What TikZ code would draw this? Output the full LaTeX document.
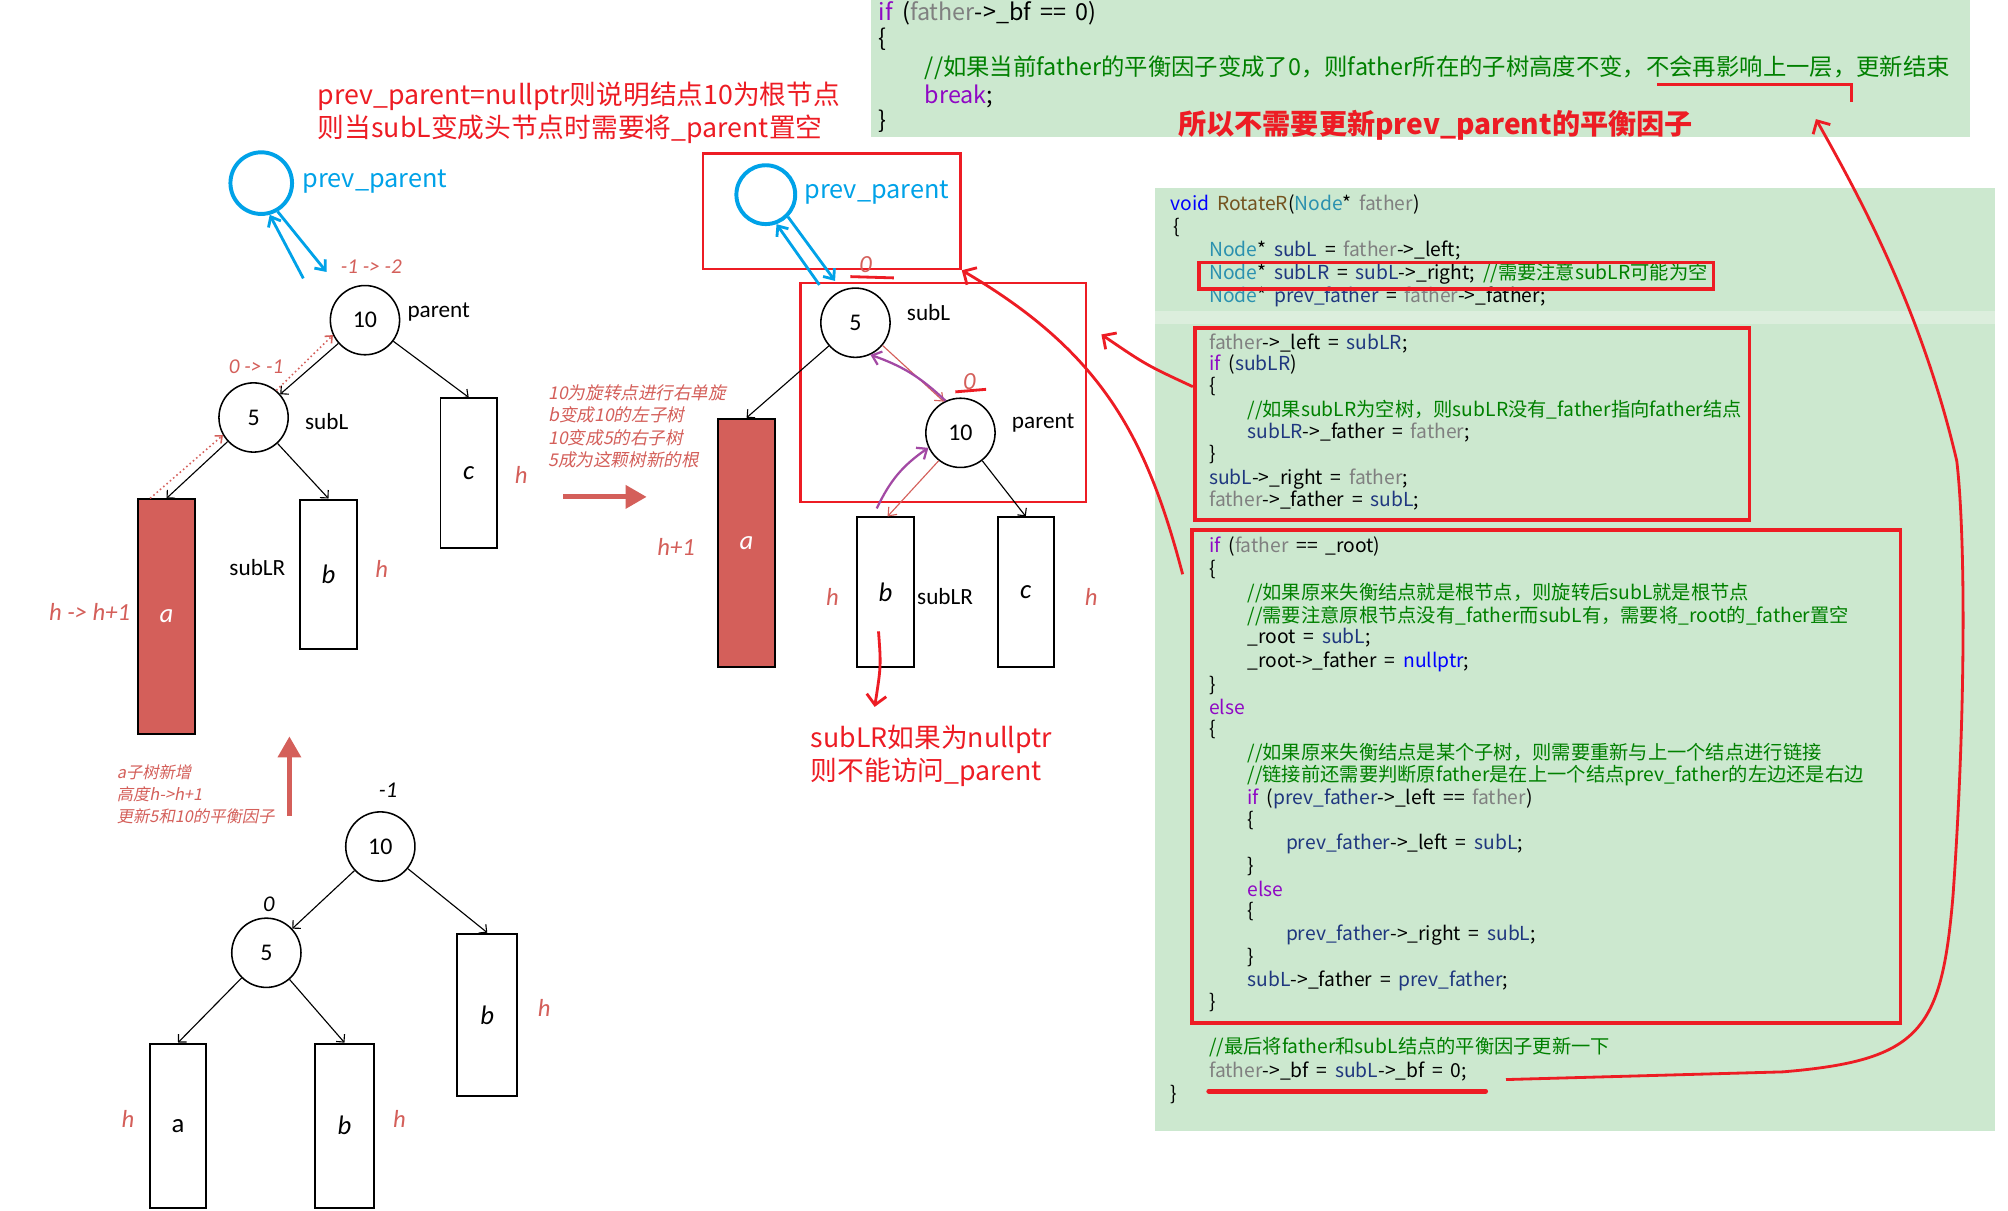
\documentclass[tikz,border=0pt]{standalone}
\usepackage{fontspec}
\setmainfont{Carlito}
\newfontfamily\cjk{Noto Sans CJK SC}
\newfontfamily\codefont[WordSpace=1.8]{Noto Sans CJK SC}
\newfontfamily\cjkit[FakeSlant=0.2]{Noto Sans CJK SC}
\usetikzlibrary{arrows.meta}

\definecolor{codebg}{RGB}{204,232,207}
\definecolor{codeband}{RGB}{220,238,221}
\definecolor{markred}{RGB}{237,28,36}
\definecolor{palered}{RGB}{212,95,90}
\definecolor{ppblue}{RGB}{0,162,232}
\definecolor{arrowpurple}{RGB}{163,73,164}
\definecolor{kwpurple}{RGB}{143,8,196}
\definecolor{kwblue}{RGB}{0,0,255}
\definecolor{typeteal}{RGB}{43,145,175}
\definecolor{paramgray}{RGB}{128,128,128}
\definecolor{varblue}{RGB}{31,55,127}
\definecolor{fnbrown}{RGB}{116,83,31}
\definecolor{comgreen}{RGB}{0,128,0}

\newcommand\ckw[1]{\textcolor{kwpurple}{#1}}
\newcommand\cblue[1]{\textcolor{kwblue}{#1}}
\newcommand\cty[1]{\textcolor{typeteal}{#1}}
\newcommand\cpar[1]{\textcolor{paramgray}{#1}}
\newcommand\cvar[1]{\textcolor{varblue}{#1}}
\newcommand\cfn[1]{\textcolor{fnbrown}{#1}}
\newcommand\ccom[1]{\textcolor{comgreen}{#1}}

\begin{document}
\begin{tikzpicture}[x=0.032cm,y=-0.032cm,
  vert/.style={circle,draw,line width=1.1pt,minimum size=1.73cm,inner sep=0,font=\fontsize{17}{20}\selectfont},
  lbl/.style={anchor=west,inner sep=0,font=\fontsize{16.5}{20}\selectfont},
  subtree/.style={draw,line width=1.4pt,minimum width=1.41cm,inner sep=0,font=\fontsize{19}{22}\selectfont\itshape},
  hotsub/.style={subtree,fill=palered,text=white},
  treeedge/.style={-{Straight Barb[length=4pt,width=8pt]},line width=0.8pt},
  note/.style={inner sep=0,text=palered,font=\fontsize{17.5}{20}\selectfont\itshape},
  bfval/.style={inner sep=0,font=\fontsize{16}{19}\selectfont\itshape},
  ppcircle/.style={circle,draw=ppblue,line width=2.8pt,inner sep=0},
  pplabel/.style={anchor=west,inner sep=0,text=ppblue,font=\cjk\fontsize{18}{22}\selectfont},
  bluearr/.style={ppblue,line width=2pt,-{Straight Barb[length=6pt,width=10pt]}},
  dotarr/.style={palered,line width=1.1pt,dotted,-{Straight Barb[length=4pt,width=7pt]}},
  thinarr/.style={palered,line width=0.8pt,-{Straight Barb[length=5pt,width=8pt]}},
  purarr/.style={arrowpurple,line width=1.6pt,-{Straight Barb[length=6pt,width=10pt]}},
  markbox/.style={draw=markred,line width=1.9pt,inner sep=0},
  codebox/.style={draw=markred,line width=2.7pt,inner sep=0},
  hand/.style={markred,line width=2pt,-{Straight Barb[length=7pt,width=14pt]}},
  redtext/.style={anchor=west,inner sep=0,text=markred,font=\cjk\fontsize{19}{23}\selectfont},
  smallnote/.style={anchor=north west,align=left,inner sep=0,text=palered,font=\cjkit\fontsize{12.5}{16}\selectfont},
  bigarr/.style={palered,line width=3.6pt,-{Triangle[length=15pt,width=16pt]}},
  codeline/.style={anchor=west,inner sep=0,font=\codefont\fontsize{13.7}{16}\selectfont},
  topline/.style={anchor=west,inner sep=0,font=\codefont\fontsize{16.6}{20}\selectfont}]
  \useasboundingbox (0,0) rectangle (1568,945);
  \fill[white] (0,0) rectangle (1568,945);

  % code panels
  \fill[codebg] (680,0) rectangle (1538,107);
  \fill[codebg] (902,147) rectangle (1558,883);
  \fill[codeband] (902,243) rectangle (1558,253);

  \foreach \x/\y/\t in {686/10/{\ckw{if} (\cpar{father}->\_bf == 0)},
      686/31/{\{},
      722/53/{\ccom{//如果当前father的平衡因子变成了0，则father所在的子树高度不变，不会再影响上一层，更新结束}},
      722/75/{\ckw{break};},
      686/95/{\}}}
    \node[topline] (tl\y) at (\x,\y) {\t};

  \foreach \x/\y/\t in {914/160/{\cblue{void} \cfn{RotateR}(\cty{Node}* \cpar{father})},
      916/178/{\{},
      944/196/{\cty{Node}* \cvar{subL} = \cpar{father}->\_left;},
      944/214/{\cty{Node}* \cvar{subLR} = \cvar{subL}->\_right; \ccom{//需要注意subLR可能为空}},
      944/232/{\cty{Node}* \cvar{prev\_father} = \cpar{father}->\_father;},
      944/268/{\cpar{father}->\_left = \cvar{subLR};},
      944/285/{\ckw{if} (\cvar{subLR})},
      944/302/{\{},
      974/320/{\ccom{//如果subLR为空树，则subLR没有\_father指向father结点}},
      974/338/{\cvar{subLR}->\_father = \cpar{father};},
      944/355/{\}},
      944/374/{\cvar{subL}->\_right = \cpar{father};},
      944/391/{\cpar{father}->\_father = \cvar{subL};},
      944/427/{\ckw{if} (\cpar{father} == \_root)},
      944/445/{\{},
      974/463/{\ccom{//如果原来失衡结点就是根节点，则旋转后subL就是根节点}},
      974/481/{\ccom{//需要注意原根节点没有\_father而subL有，需要将\_root的\_father置空}},
      974/498/{\_root = \cvar{subL};},
      974/517/{\_root->\_father = \cblue{nullptr};},
      944/535/{\}},
      944/552/{\ckw{else}},
      944/570/{\{},
      974/588/{\ccom{//如果原来失衡结点是某个子树，则需要重新与上一个结点进行链接}},
      974/606/{\ccom{//链接前还需要判断原father是在上一个结点prev\_father的左边还是右边}},
      974/624/{\ckw{if} (\cvar{prev\_father}->\_left == \cpar{father})},
      974/641/{\{},
      1004/659/{\cvar{prev\_father}->\_left = \cvar{subL};},
      974/677/{\}},
      974/694/{\ckw{else}},
      974/712/{\{},
      1004/730/{\cvar{prev\_father}->\_right = \cvar{subL};},
      974/748/{\}},
      974/766/{\cvar{subL}->\_father = \cvar{prev\_father};},
      944/783/{\}},
      944/818/{\ccom{//最后将father和subL结点的平衡因子更新一下}},
      944/837/{\cpar{father}->\_bf = \cvar{subL}->\_bf = 0;},
      914/855/{\}}}
    \node[codeline] (cl\y) at (\x,\y) {\t};

  \node[codebox,minimum width=12.86cm,minimum height=0.67cm] (rbox3) at (1137,215.5) {};
  \node[codebox,minimum width=13.86cm,minimum height=4.8cm] (rbox4) at (1149.5,331) {};
  \node[codebox,minimum width=17.7cm,minimum height=12.32cm] (rbox5) at (1207.5,606.5) {};

  \node[anchor=west,inner sep=0,text=markred,font=\cjk\fontsize{20}{24}\selectfont\bfseries] (keep) at (920,98) {所以不需要更新prev\_parent的平衡因子};
  \draw[markred,line width=2pt] (1294,66) -- (1446,66) -- (1446,80);
  \draw[markred,line width=3.6pt,line cap=round] (944,852) -- (1160,852);
  \coordinate (bfline) at (1176,843);
  \coordinate (tipA) at (1418,93);
  \draw[hand] (bfline) -- (1392,837) .. controls (1500,828) and (1516,805) .. (1525,700)
    .. controls (1535,560) and (1535,420) .. (1528,360) .. controls (1500,240) and (1450,150) .. (tipA);

  % before the rotation
  \node[redtext] (t1) at (248,75) {prev\_parent=nullptr则说明结点10为根节点};
  \node[redtext] (t2) at (248,101) {则当subL变成头节点时需要将\_parent置空};

  \node[ppcircle,minimum size=1.54cm] (pp1) at (204,143) {};
  \node[pplabel] (pp1l) at (236,142) {prev\_parent};
  \node[vert] (n10a) at (285,250) {10};
  \node[lbl] (par1) at (318,244) {parent};
  \node[vert] (n5a) at (198,326) {5};
  \node[lbl] (sub1) at (238,329) {subL};
  \node[hotsub,minimum height=5.86cm] (a1) at (130,481.5) {a};
  \node[subtree,minimum height=3.74cm] (b1) at (256.5,448.5) {b};
  \node[subtree,minimum height=3.74cm] (c1) at (366,369.5) {c};
  \node[lbl,anchor=center] (slr1) at (201,443) {subLR};
  \node[note] (h1) at (70,478) {h -> h+1};
  \node[note] (h2) at (298,444) {h};
  \node[note] (h3) at (407,371) {h};
  \node[note,font=\fontsize{15}{18}\selectfont\itshape] (bf1) at (290,208) {-1 -> -2};
  \node[note,font=\fontsize{15}{18}\selectfont\itshape] (bf2) at (200,286) {0 -> -1};

  \draw[treeedge] (n10a) -- (n5a);
  \draw[treeedge] (n10a) -- (c1.north);
  \draw[treeedge] (n5a) -- (a1.north);
  \draw[treeedge] (n5a) -- (b1.north);
  \draw[dotarr] ([xshift=0.32cm]a1.north west) -- (n5a.210);
  \draw[dotarr] (n5a.50) -- (n10a.205);
  \draw[bluearr] (pp1.-60) -- ([shift={(-0.96cm,0.32cm)}]n10a.north);
  \draw[bluearr] ([shift={(-1.54cm,0.16cm)}]n10a.north) -- (pp1.-75);

  \node[smallnote] (rot) at (428,300) {10为旋转点进行右单旋\\b变成10的左子树\\10变成5的右子树\\5成为这颗树新的根};
  \coordinate (ra1) at (440,388);
  \coordinate (ra2) at (505,388);
  \draw[bigarr] (ra1) -- (ra2);

  % after the rotation
  \node[markbox,minimum width=6.43cm,minimum height=2.88cm] (rbox1) at (649.5,165) {};
  \node[markbox,minimum width=7.14cm,minimum height=5.47cm] (rbox2) at (736.5,306.5) {};
  \node[ppcircle,minimum size=1.47cm] (pp2) at (598,152) {};
  \node[pplabel] (pp2l) at (628,150) {prev\_parent};
  \node[vert] (n5b) at (668,252) {5};
  \node[lbl] (sub2) at (708,244) {subL};
  \node[vert] (n10b) at (750,338) {10};
  \node[lbl] (par2) at (790,330) {parent};
  \node[hotsub,minimum height=6.21cm] (a2) at (583,424) {a};
  \node[subtree,minimum width=1.44cm,minimum height=3.74cm] (b2) at (691.5,462.5) {b};
  \node[subtree,minimum height=3.74cm] (c2) at (801,462.5) {c};
  \node[lbl,anchor=center] (slr2) at (738,466) {subLR};
  \node[note] (h4) at (528,427) {h+1};
  \node[note] (h5) at (650,466) {h};
  \node[note] (h6) at (852,466) {h};
  \node[note] (bf3) at (676,207) {0};
  \node[note] (bf4) at (757,298) {0};
  \draw[markred,line width=2pt] (664,216) -- (698,217);
  \draw[markred,line width=2pt] (746,306) -- (770,304);

  \draw[treeedge] (n5b) -- (a2.north);
  \draw[treeedge] (n10b) -- (c2.north);
  \draw[thinarr] (n5b.-40) -- (n10b.118);
  \draw[thinarr] (n10b.232) -- ([xshift=0.05cm]b2.north);
  \draw[purarr] (n10b.115) to[bend right=12] (n5b.-65);
  \draw[purarr] ([shift={(-0.22cm,0.2cm)}]b2.north) to[bend left=15] (n10b.205);
  \draw[bluearr] (pp2.-45) -- ([shift={(-0.51cm,0.16cm)}]n5b.north);
  \draw[bluearr] ([shift={(-0.9cm,0.06cm)}]n5b.north) -- (pp2.-70);

  \coordinate (nullstart) at (686,493);
  \coordinate (nullend) at (683,552);
  \draw[hand] (nullstart) .. controls (688,520) .. (nullend);
  \node[redtext] (t3) at (633,577) {subLR如果为nullptr};
  \node[redtext] (t4) at (633,603) {则不能访问\_parent};

  % marks from the code back to the picture
  \draw[hand] ([shift={(-0.19cm,-1.15cm)}]rbox5.north west) .. controls (895,340) and (860,275) .. (rbox1.south east);
  \draw[hand] ([yshift=0.93cm]rbox4.west) .. controls (895,285) .. ([shift={(0.35cm,1.45cm)}]rbox2.east);

  % growing a
  \node[smallnote,font=\cjkit\fontsize{11.6}{15.5}\selectfont] (growa) at (91,597) {a子树新增\\高度h->h+1\\更新5和10的平衡因子};
  \coordinate (ua1) at (226,637);
  \coordinate (ua2) at (226,575);
  \draw[bigarr] (ua1) -- (ua2);

  \node[vert] (n10c) at (297,661) {10};
  \node[vert] (n5c) at (208,744) {5};
  \node[bfval] (bf5) at (303,617) {-1};
  \node[bfval] (bf6) at (210,706) {0};
  \node[subtree,minimum width=1.5cm,minimum height=4.06cm] (r3) at (380.5,792.5) {b};
  \node[subtree,font=\fontsize{19}{22}\selectfont,minimum height=4.1cm] (a3) at (139,879) {a};
  \node[subtree,minimum width=1.47cm,minimum height=4.1cm] (b3) at (269,879) {b};
  \node[note] (h7) at (425,787) {h};
  \node[note] (h8) at (100,874) {h};
  \node[note] (h9) at (312,874) {h};
  \draw[treeedge] (n10c) -- (n5c);
  \draw[treeedge] (n10c) -- (r3.north);
  \draw[treeedge] (n5c) -- (a3.north);
  \draw[treeedge] (n5c) -- (b3.north);
\end{tikzpicture}
\end{document}
